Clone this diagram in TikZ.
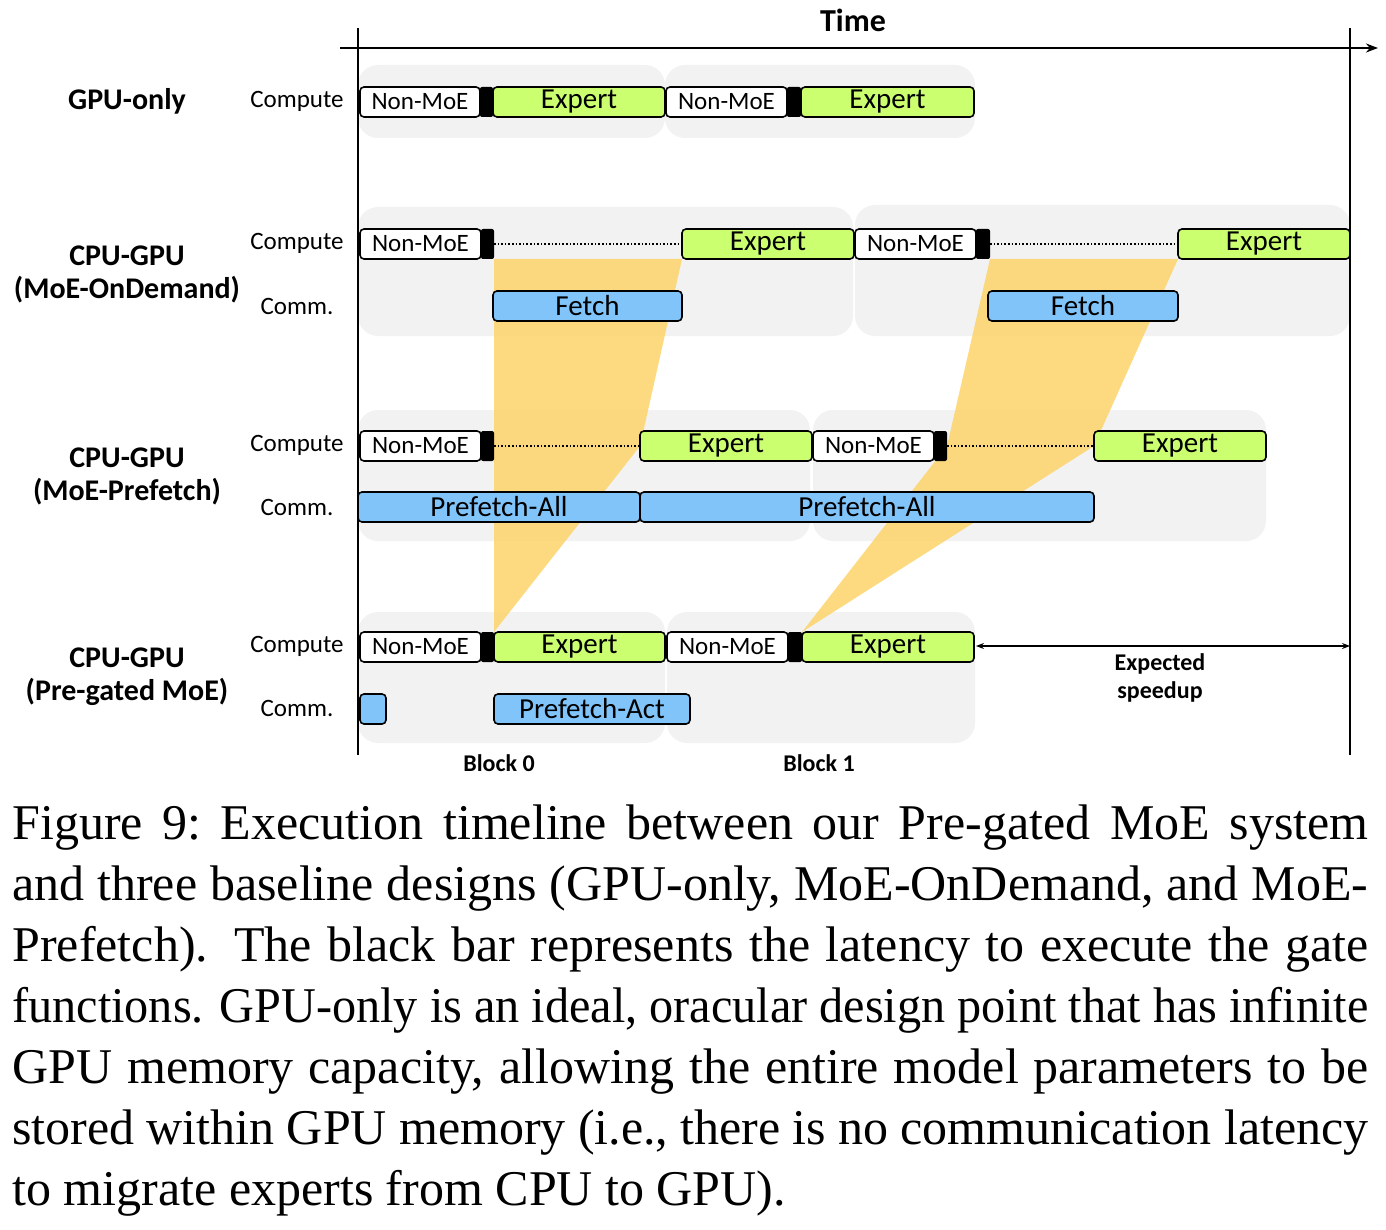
\documentclass[tikz,border=0pt]{standalone}
\usepackage{fontspec}
\usepackage{graphicx}
\setmainfont{Liberation Serif}
\newfontfamily\calfnt{Carlito}
\usetikzlibrary{arrows.meta}
\definecolor{gbg}{HTML}{F2F2F2}
\definecolor{grn}{HTML}{CCFF70}
\definecolor{blu}{HTML}{80C4FA}
\definecolor{yel}{HTML}{FDD46A}
\newcommand\capline[1]{\hbox to 678pt{#1}}
\begin{document}
\begin{tikzpicture}[x=0.5pt,y=-0.5pt,
 bg/.style={fill=gbg,rounded corners=10pt,draw=none},
 bx/.style={draw=black,line width=0.8pt,rounded corners=2pt},
 wb/.style={bx,fill=white},
 gb/.style={bx,fill=grn},
 bb/.style={bx,fill=blu},
 kb/.style={fill=black,rounded corners=1pt},
 lab/.style={font=\calfnt\fontsize{12.5}{12.5}\selectfont},
 blab/.style={font=\calfnt\fontsize{14.5}{14.5}\selectfont},
 row/.style={font=\calfnt\bfseries\fontsize{15}{16.5}\selectfont,align=center},
 dot/.style={densely dotted,line width=0.8pt}]
\useasboundingbox (0,0) rectangle (1386,1230);
% backgrounds
\fill[bg] (358,65) rectangle (665,138);
\fill[bg] (665,65) rectangle (975,138);
\fill[bg] (358,207) rectangle (853,336);
\fill[bg] (855,205) rectangle (1350,336);
\fill[bg] (358,410) rectangle (810,541);
\fill[bg] (813,410) rectangle (1266,541);
\fill[bg] (358,612) rectangle (665,743);
\fill[bg] (667,612) rectangle (975,743);
% yellow
\fill[yel,opacity=0.85] (494,259) -- (682,259) -- (640,446) -- (494,632) -- cycle;
\fill[yel,opacity=0.85] (990,259) -- (1178,259) -- (1094,446) -- (802,632) -- (947,446) -- cycle;
% axes
\coordinate (ta) at (340,48); \coordinate (tb) at (1378,48);
\draw[line width=1pt,-{Stealth[length=6pt]}] (ta) -- (tb);
\draw[line width=1pt] (358,28) -- (358,755);
\draw[line width=1pt] (1350,28) -- (1350,755);
\node[font=\calfnt\bfseries\fontsize{16}{16}\selectfont] (time) at (853,20) {Time};
% row labels
\node[row] (r1) at (127,101) {GPU-only};
\node[row] (r2) at (127,274) {CPU-GPU\\(MoE-OnDemand)};
\node[row] (r3) at (127,476) {CPU-GPU\\(MoE-Prefetch)};
\node[row] (r4) at (127,677) {CPU-GPU\\(Pre-gated MoE)};
\foreach \y/\n in {101/c1,243/c2,445/c3,646/c4}{\node[lab] (\n) at (297,\y) {Compute};}
\foreach \y/\n in {306/m2,507/m3,708/m4}{\node[lab] (\n) at (297,\y) {Comm.};}
% Row 1
\draw[wb] (360,87) rectangle node[lab]{Non-MoE} (480,117);
\fill[kb] (480,87) rectangle (493,117);
\draw[gb] (493,87) rectangle node[blab]{Expert} (665,117);
\draw[wb] (666,87) rectangle node[lab]{Non-MoE} (787,117);
\fill[kb] (787,87) rectangle (801,117);
\draw[gb] (801,87) rectangle node[blab]{Expert} (974,117);
% Row 2
\draw[wb] (360,229) rectangle node[lab]{Non-MoE} (481,259);
\fill[kb] (481,229) rectangle (494,259);
\draw[dot] (494,244) -- (682,244);
\draw[gb] (682,229) rectangle node[blab]{Expert} (854,259);
\draw[wb] (855,229) rectangle node[lab]{Non-MoE} (976,259);
\fill[kb] (976,229) rectangle (990,259);
\draw[dot] (990,244) -- (1178,244);
\draw[gb] (1178,229) rectangle node[blab]{Expert} (1350,259);
\draw[bb] (493,291) rectangle node[blab]{Fetch} (682,321);
\draw[bb] (988,291) rectangle node[blab]{Fetch} (1178,321);
% Row 3
\draw[wb] (360,431) rectangle node[lab]{Non-MoE} (481,461);
\fill[kb] (481,431) rectangle (494,461);
\draw[dot] (494,446) -- (640,446);
\draw[gb] (640,431) rectangle node[blab]{Expert} (812,461);
\draw[wb] (813,431) rectangle node[lab]{Non-MoE} (934,461);
\fill[kb] (934,431) rectangle (947,461);
\draw[dot] (947,446) -- (1094,446);
\draw[gb] (1094,431) rectangle node[blab]{Expert} (1266,461);
\draw[bb] (358,492) rectangle node[blab]{Prefetch-All} (640,522);
\draw[bb] (640,492) rectangle node[blab]{Prefetch-All} (1094,522);
% Row 4
\draw[wb] (360,632) rectangle node[lab]{Non-MoE} (481,662);
\fill[kb] (481,632) rectangle (494,662);
\draw[gb] (494,632) rectangle node[blab]{Expert} (665,662);
\draw[wb] (667,632) rectangle node[lab]{Non-MoE} (788,662);
\fill[kb] (788,632) rectangle (802,662);
\draw[gb] (802,632) rectangle node[blab]{Expert} (974,662);
\draw[bb] (360,694) rectangle (386,724);
\draw[bb] (494,694) rectangle node[blab]{Prefetch-Act} (690,724);
\coordinate (sa) at (976,646); \coordinate (sb) at (1350,646);
\draw[line width=0.6pt,{Stealth[length=4pt]}-{Stealth[length=4pt]}] (sa) -- (sb);
\node[font=\calfnt\bfseries\fontsize{12}{14}\selectfont,align=center] (sp) at (1160,678) {Expected\\speedup};
\node[font=\calfnt\bfseries\fontsize{12}{12}\selectfont] (b0) at (499,763) {Block 0};
\node[font=\calfnt\bfseries\fontsize{12}{12}\selectfont] (b1) at (819,763) {Block 1};
% caption
\node[anchor=north west,inner sep=0pt,align=left,font=\fontsize{25}{30.5}\selectfont] (cap) at (12,804) {%
\capline{Figure 9:\ Execution timeline between our Pre-gated MoE system}\\
\capline{and three baseline designs (GPU-only, MoE-OnDemand, and MoE-}\\
\capline{Prefetch). The black bar represents the latency to execute the gate}\\
\resizebox{678pt}{\height}{functions. GPU-only is an ideal, oracular design point that has infinite}\\
\capline{GPU memory capacity, allowing the entire model parameters to be}\\
\capline{stored within GPU memory (i.e., there is no communication latency}\\
to migrate experts from CPU to GPU).};
\end{tikzpicture}
\end{document}
